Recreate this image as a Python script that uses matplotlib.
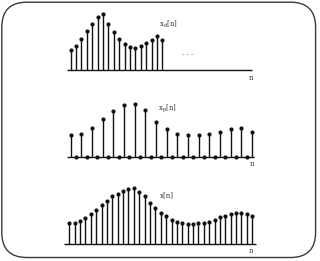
import matplotlib
matplotlib.use("Agg")
import matplotlib.pyplot as plt
from matplotlib.patches import FancyBboxPatch

# Sequence heights (arbitrary units)
x_full = [20.7, 20.7, 22.7, 26.0, 30.0, 33.7, 38.7, 42.7, 47.3, 50.0, 53.0, 55.0,
          56.0, 52.0, 47.3, 40.5, 35.8, 31.0, 28.0, 24.0, 22.0, 20.7, 20.0, 20.0,
          21.0, 21.0, 22.0, 24.0, 26.7, 28.0, 29.3, 30.3, 30.8, 29.8, 28.0]
x_sampled = [22.0, 23.7, 29.7, 38.7, 46.3, 52.3, 53.7, 47.0, 35.7, 28.0, 23.7,
             22.7, 22.7, 23.7, 25.3, 28.0, 29.3, 25.7]
x_decimated = [20.7, 24.7, 31.0, 39.0, 46.7, 53.7, 56.7, 46.3, 38.5, 31.0, 26.7,
               23.7, 22.3, 24.0, 26.8, 30.3, 34.1, 30.2]

W, H = 320, 261
fig = plt.figure(figsize=(W / 100, H / 100), dpi=100)

# Rounded outer frame
frame = fig.add_axes([0, 0, 1, 1])
frame.set_xlim(0, W)
frame.set_ylim(H, 0)
frame.axis("off")
frame.add_patch(FancyBboxPatch((1.8, 2.2), 313.8, 255.3,
                               boxstyle="round,pad=0,rounding_size=25",
                               fill=False, edgecolor="#3a3a3a", linewidth=1.0))

ink = "#111111"
txt = "#333333"


def panel(top_px, base_px, x0, dx, n, values, axis_end, label, label_px, n_px, dots=None):
    """Draw one stem panel; pixel arguments only place the axes."""
    h = 87
    ax = fig.add_axes([0, 1 - (top_px + h) / H, 1, h / H])
    ax.set_xlim((0 - x0) / dx, (W - x0) / dx)
    ax.set_ylim(-(top_px + h - base_px), base_px - top_px)
    ax.axis("off")
    ax.patch.set_visible(False)
    ax.hlines(0, axis_end[0], axis_end[1], color=ink, linewidth=1.0)
    ax.vlines(n, 0, values, color=ink, linewidth=1.0)
    ax.plot(n, values, "o", color=ink, markersize=3.0, markeredgewidth=0)
    if dots is not None:
        ax.plot(dots, [0] * len(dots), "o", color=ink, markersize=3.0, markeredgewidth=0)
    ax.text((label_px[0] - x0) / dx, base_px - label_px[1], label, fontsize=5,
            color=txt, ha="left", va="center", family="DejaVu Serif")
    ax.text((n_px[0] - x0) / dx, base_px - n_px[1], "n", fontsize=5,
            color=txt, ha="center", va="center", family="DejaVu Serif")
    return ax


# x_d[n]: decimated sequence
n_d = list(range(len(x_decimated)))
ax_d = panel(0, 70.3, 70.7, 5.39, n_d, x_decimated, (-0.74, 33.6),
             r"x$_\mathrm{d}$[n]", (159, 24), (251, 78))
ax_d.text((182 - 70.7) / 5.39, 17, ". . .", fontsize=5, color=txt,
          ha="left", va="center")

# x_p[n]: sampled sequence with zeros in between
n_p = list(range(0, 2 * len(x_sampled), 2))
n_zero = list(range(1, 2 * len(x_sampled) - 1, 2))
panel(87, 157.3, 70.7, 5.33, n_p, x_sampled, (-0.75, 34.3),
      r"x$_\mathrm{p}$[n]", (158, 109), (252, 164), dots=n_zero)

# x[n]: original sequence
n_x = list(range(len(x_full)))
panel(174, 243.7, 69.3, 5.38, n_x, x_full, (-0.98, 34.7),
      "x[n]", (160, 195.7), (250.7, 251))

fig.savefig("out.png", dpi=100)
